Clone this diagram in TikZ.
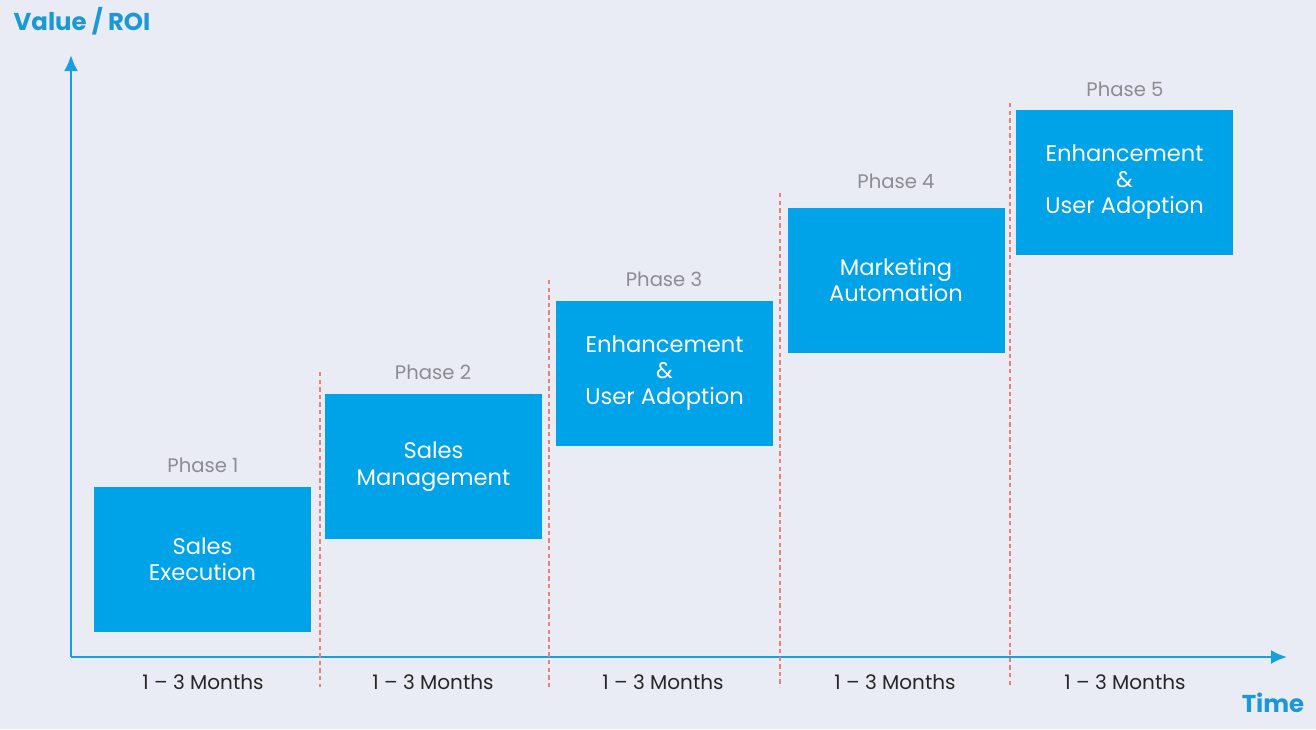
\documentclass[tikz,border=0pt]{standalone}
\usepackage{fontspec}
\setmainfont{Poppins}
\usetikzlibrary{arrows.meta}
\definecolor{pagebg}{RGB}{233,236,244}
\definecolor{boxblue}{RGB}{0,162,232}
\definecolor{axisblue}{RGB}{22,160,226}
\definecolor{titleblue}{RGB}{28,152,214}
\definecolor{dashred}{RGB}{236,128,118}
\definecolor{phasegray}{RGB}{140,140,145}
\tikzset{
    phasebox/.style={rectangle, fill=boxblue, draw=none, text=white,
        minimum width=108.5pt, minimum height=72.5pt, align=center,
        font=\fontsize{11.3}{13.2}\selectfont}
}
\tikzset{
    phaselabel/.style={text=phasegray, font=\fontsize{9.8}{11}\selectfont}
}
\tikzset{
    monthlabel/.style={text=black!85, font=\fontsize{10}{12}\selectfont}
}
\tikzset{
    axislabel/.style={text=titleblue, font=\fontsize{12.2}{14}\selectfont\bfseries}
}
\tikzset{
    divider/.style={draw=dashred, line width=.6pt, dash pattern=on 2.2pt off 1.6pt}
}
\tikzset{
    axis/.style={draw=axisblue, line width=1.2pt, -{Latex[length=8pt,width=7pt]}}
}

\begin{document}
\begin{tikzpicture}[x=.5pt, y=-.5pt]
	\fill[pagebg] (0,0) rectangle (1316,729);
	\useasboundingbox (0,0) rectangle (1316,729);
	\coordinate (o) at (71,657);
	\coordinate (ytop) at (71,55);
	\coordinate (xend) at (1287,657);
	\draw[axis] (o) -- (ytop);
	\draw[axis] (o) -- (xend);
	\node[axislabel] (vroi) at (82,21) {Value / ROI};
	\node[axislabel] (time) at (1273,703) {Time};
	\coordinate (d1t) at (320,372); \coordinate (d1b) at (320,687);
	\coordinate (d2t) at (549,280); \coordinate (d2b) at (549,687);
	\coordinate (d3t) at (780,193); \coordinate (d3b) at (780,687);
	\coordinate (d4t) at (1010,103); \coordinate (d4b) at (1010,687);
	\draw[divider] (d1t) -- (d1b); \draw[divider] (d2t) -- (d2b);
	\draw[divider] (d3t) -- (d3b); \draw[divider] (d4t) -- (d4b);
	\node[phasebox] (b1) at (202.5,559.5) {Sales\\Execution};
	\node[phasebox] (b2) at (433.5,466.5) {Sales\\Management};
	\node[phasebox] (b3) at (664.5,373) {Enhancement\\\&\\User Adoption};
	\node[phasebox] (b4) at (896,280) {Marketing\\Automation};
	\node[phasebox] (b5) at (1124.5,182) {Enhancement\\\&\\User Adoption};
	\node[phaselabel] (p1) at (203,465) {Phase 1};
	\node[phaselabel] (p2) at (433,372) {Phase 2};
	\node[phaselabel] (p3) at (664,279) {Phase 3};
	\node[phaselabel] (p4) at (896,181) {Phase 4};
	\node[phaselabel] (p5) at (1125,89) {Phase 5};
	\node[monthlabel] (m1) at (203,682) {1 -- 3 Months};
	\node[monthlabel] (m2) at (433,682) {1 -- 3 Months};
	\node[monthlabel] (m3) at (663,682) {1 -- 3 Months};
	\node[monthlabel] (m4) at (895,682) {1 -- 3 Months};
	\node[monthlabel] (m5) at (1125,682) {1 -- 3 Months};
\end{tikzpicture}
\end{document}
